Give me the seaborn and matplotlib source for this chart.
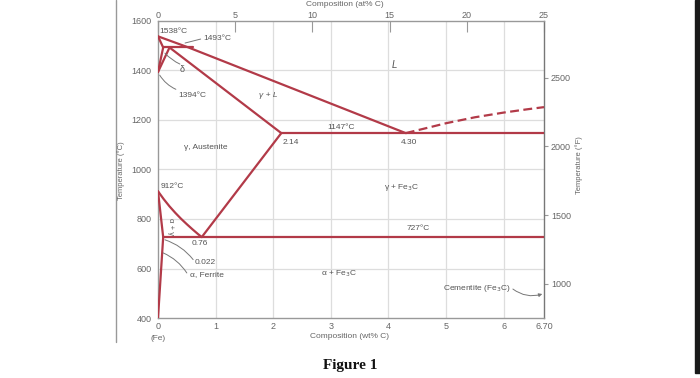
import matplotlib
matplotlib.use("Agg")
import matplotlib.pyplot as plt
import matplotlib.lines as mlines
import seaborn as sns
import numpy as np

# ---- data (wt% C, temperature in °C) ----
liquidus_wt = [0.0, 0.53, 4.30]
liquidus_T = [1538, 1493, 1147]
liquidus_cem_wt = [4.30, 4.6, 5.0, 5.5, 6.0, 6.4, 6.70]
liquidus_cem_T = [1147, 1164, 1187, 1211, 1230, 1243, 1252]
delta_sol_wt = [0.0, 0.09]
delta_sol_T = [1538, 1493]
peritectic_wt = [0.09, 0.60]
peritectic_T = [1493, 1493]
delta_bnd_wt = [0.09, 0.0]
delta_bnd_T = [1493, 1394]
gamma_delta_wt = [0.20, 0.0]
gamma_delta_T = [1493, 1394]
gamma_sol_wt = [0.20, 2.14]
gamma_sol_T = [1493, 1147]
eutectic_wt = [2.14, 6.70]
eutectic_T = [1147, 1147]
acm_wt = [2.14, 0.76]
acm_T = [1147, 727]
a3_wt = [0.0, 0.1, 0.2, 0.3, 0.4, 0.5, 0.6, 0.7, 0.76]
a3_T = [912, 880, 851, 825, 801, 779, 758, 738, 727]
alpha_wt = [0.0, 0.09]
alpha_T = [912, 727]
eutectoid_wt = [0.09, 6.70]
eutectoid_T = [727, 727]
solvus_wt = [0.09, 0.0]
solvus_T = [727, 400]

wt_ticks = [0, 1, 2, 3, 4, 5, 6, 6.70]
wt_tick_labels = ["0", "1", "2", "3", "4", "5", "6", "6.70"]
at_ticks = [0, 5, 10, 15, 20, 25]
C_ticks = [400, 600, 800, 1000, 1200, 1400, 1600]
F_ticks = [1000, 1500, 2000, 2500]

sns.set_theme(style="white")
plt.rcParams['font.family'] = ['Liberation Sans', 'DejaVu Sans']

RED = "#b23a48"
TXT = "#555555"
TCK = "#666666"

fig = plt.figure(figsize=(7.0, 3.78), dpi=100)
ax = fig.add_axes([158/700, 1-318/378, (544-158)/700, (318-21)/378])
ax.set_xlim(0, 6.70)
ax.set_ylim(400, 1600)

# grid
for v in [1, 2, 3, 4, 5, 6]:
    ax.axvline(v, color="#dddddd", lw=0.9, zorder=0)
for v in [600, 800, 1000, 1200, 1400]:
    ax.axhline(v, color="#dddddd", lw=0.9, zorder=0)

def seg(x, y, dashed=False):
    sns.lineplot(x=x, y=y, sort=False, ax=ax, color=RED, lw=1.6,
                 linestyle=(0, (4, 2)) if dashed else "-", zorder=3,
                 estimator=None)

seg(liquidus_wt, liquidus_T)
seg(liquidus_cem_wt, liquidus_cem_T, dashed=True)
seg(delta_sol_wt, delta_sol_T)
seg(peritectic_wt, peritectic_T)
seg(delta_bnd_wt, delta_bnd_T)
seg(gamma_delta_wt, gamma_delta_T)
seg(gamma_sol_wt, gamma_sol_T)
seg(eutectic_wt, eutectic_T)
seg(acm_wt, acm_T)
seg(a3_wt, a3_T)
seg(alpha_wt, alpha_T)
seg(eutectoid_wt, eutectoid_T)
seg(solvus_wt, solvus_T)

for s in ax.spines.values():
    s.set_color("#999999")
    s.set_linewidth(1.0)
ax.spines["right"].set_color("#777777")

ax.set_xticks(wt_ticks)
ax.set_xticklabels(wt_tick_labels)
ax.set_yticks(C_ticks)
ax.set_yticks([500, 700, 900, 1100, 1300, 1500], minor=True)
ax.tick_params(axis="x", direction="in", length=9, width=0.8, color="#999999",
               labelsize=6.5, labelcolor=TCK, pad=3)
ax.tick_params(axis="y", which="major", direction="inout", length=5, width=0.8,
               color="#999999", labelsize=6.5, labelcolor=TCK, pad=2)
ax.tick_params(axis="y", which="minor", direction="in", length=3, width=0.8,
               color="#999999")

top = ax.secondary_xaxis("top", functions=(lambda w: w*25/6.70, lambda a: a*6.70/25))
top.set_xticks(at_ticks)
top.tick_params(direction="in", length=8, width=0.8, color="#999999",
                labelsize=6.5, labelcolor=TCK, pad=1)
top.spines["top"].set_visible(False)

right = ax.secondary_yaxis("right", functions=(lambda c: c*9/5+32, lambda f: (f-32)*5/9))
right.set_yticks(F_ticks)
right.tick_params(direction="out", length=3, width=0.8, color="#999999",
                  labelsize=6.5, labelcolor=TCK, pad=2)
right.spines["right"].set_visible(False)

def t(x, y, s, **kw):
    kw.setdefault("fontsize", 6)
    kw.setdefault("color", TXT)
    kw.setdefault("va", "center")
    ax.text(x, y, s, **kw)

t(0.03, 1559, "1538°C", ha="left")
t(0.78, 1531, "1493°C", ha="left")
t(0.42, 1406, "δ", ha="center", fontsize=6.5)
t(0.35, 1300, "1394°C", ha="left")
t(1.91, 1300, "γ + L", ha="center", fontstyle="italic")
t(4.11, 1421, "L", ha="center", fontstyle="italic", fontsize=7)
t(3.18, 1170, "1147°C", ha="center")
t(2.17, 1109, "2.14", ha="left")
t(4.36, 1109, "4.30", ha="center")
t(0.83, 1089, "γ, Austenite", ha="center")
t(0.05, 930, "912°C", ha="left")
t(0.21, 768, "α + γ", ha="center", rotation=-90, fontsize=5.5)
t(0.59, 699, "0.76", ha="left")
t(0.64, 626, "0.022", ha="left")
t(0.55, 574, "α, Ferrite", ha="left")
t(3.14, 578, "α + Fe$_3$C", ha="center")
t(4.22, 927, "γ + Fe$_3$C", ha="center")
t(4.51, 760, "727°C", ha="center")
t(6.11, 521, "Cementite (Fe$_3$C)", ha="right")

def leader(x0, y0, x1, y1, rad=0.0, arrow=False):
    ax.annotate("", xy=(x1, y1), xytext=(x0, y0),
                arrowprops=dict(arrowstyle="-|>" if arrow else "-", color="#777777",
                                lw=0.7, mutation_scale=5,
                                connectionstyle=f"arc3,rad={rad}",
                                shrinkA=0, shrinkB=0))

leader(0.47, 1511, 0.74, 1527)
leader(0.12, 1470, 0.38, 1426, rad=0.1)
leader(0.03, 1381, 0.31, 1324, rad=0.15)
leader(0.12, 716, 0.61, 636, rad=-0.15)
leader(0.09, 663, 0.50, 582, rad=-0.15)
leader(6.16, 517, 6.67, 497, rad=0.25, arrow=True)

# figure-level texts
def ftext(px, py, s, **kw):
    fig.text(px/700, 1-py/378, s, **kw)

ftext(121, 171, "Temperature (°C)", rotation=90, ha="center", va="center",
      fontsize=5.5, color=TCK)
ftext(579, 165, "Temperature (°F)", rotation=90, ha="center", va="center",
      fontsize=5.5, color=TCK)
ftext(350, 337, "Composition (wt% C)", ha="center", va="center", fontsize=6, color=TCK)
ftext(158, 338, "(Fe)", ha="center", va="center", fontsize=6, color=TCK)
ftext(345, 4, "Composition (at% C)", ha="center", va="center", fontsize=6, color=TCK)
ftext(350, 365, "Figure 1", ha="center", va="center", fontsize=11, fontweight="bold",
      family=["Liberation Serif", "DejaVu Serif"], color="#111111")

# page frame lines
fig.add_artist(mlines.Line2D([116/700, 116/700], [1-342/378, 1.0], color="#999999", lw=1.0))
fig.patches.append(plt.Rectangle((695/700, 1-373/378), 5/700, 373/378,
                                 transform=fig.transFigure, color="#1a1a1a", zorder=5))

fig.savefig("out.png", dpi=100)
